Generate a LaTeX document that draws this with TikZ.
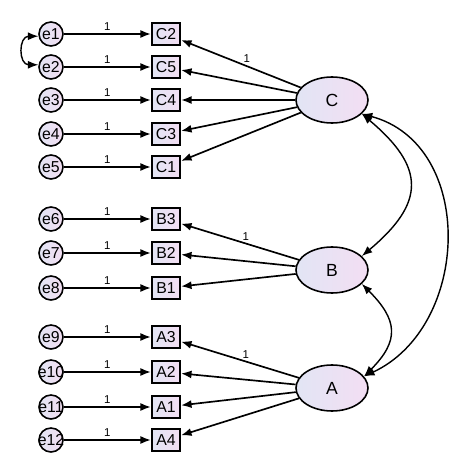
\documentclass[tikz,border=0pt]{standalone}
\usepackage{fontspec}
\setmainfont{Liberation Sans}
\usetikzlibrary{arrows.meta,shapes.geometric}
\definecolor{lilacL}{RGB}{226,229,244}
\definecolor{lilacR}{RGB}{243,222,243}

\begin{document}
\begin{tikzpicture}[x=0.02cm,y=-0.02cm,
  err/.style={draw,circle,line width=0.9pt,inner sep=0pt,minimum size=0.48cm,
    left color=lilacL,right color=lilacR,font=\fontsize{9}{10}\selectfont},
  obs/.style={draw,rectangle,line width=0.9pt,inner sep=0pt,minimum width=0.57cm,
    minimum height=0.45cm,left color=lilacL,right color=lilacR,font=\fontsize{9}{10}\selectfont},
  lat/.style={draw,ellipse,line width=0.9pt,inner sep=0pt,minimum width=1.44cm,
    minimum height=0.92cm,left color=lilacL,right color=lilacR,font=\fontsize{10}{12}\selectfont},
  fix/.style={line width=0.95pt,-{Latex[length=0.21cm,width=0.16cm]}},
  cov/.style={line width=0.8pt,{Latex[length=0.21cm,width=0.16cm]}-{Latex[length=0.21cm,width=0.16cm]}},
  one/.style={font=\fontsize{6.5}{7}\selectfont,inner sep=1.5pt}]

\useasboundingbox (0,0) rectangle (474,470);

% latent factors
\node[lat] (C) at (332,100) {C};
\node[lat] (B) at (332,270) {B};
\node[lat] (A) at (332,388) {A};

% indicators
\node[obs] (C2) at (166,34) {C2};
\node[obs] (C5) at (166,67) {C5};
\node[obs] (C4) at (166,100) {C4};
\node[obs] (C3) at (166,134) {C3};
\node[obs] (C1) at (166,167) {C1};
\node[obs] (B3) at (166,219) {B3};
\node[obs] (B2) at (166,253) {B2};
\node[obs] (B1) at (166,288) {B1};
\node[obs] (A3) at (166,337) {A3};
\node[obs] (A2) at (166,372) {A2};
\node[obs] (A1) at (166,407) {A1};
\node[obs] (A4) at (166,440) {A4};

% errors
\node[err] (e1) at (51,34) {e1};
\node[err] (e2) at (51,67) {e2};
\node[err] (e3) at (51,100) {e3};
\node[err] (e4) at (51,134) {e4};
\node[err] (e5) at (51,167) {e5};
\node[err] (e6) at (51,219) {e6};
\node[err] (e7) at (51,253) {e7};
\node[err] (e8) at (51,288) {e8};
\node[err] (e9) at (51,337) {e9};
\node[err] (e10) at (51,372) {\makebox[0pt]{e10}};
\node[err] (e11) at (51,407) {\makebox[0pt]{e11}};
\node[err] (e12) at (51,440) {\makebox[0pt]{e12}};

% error paths
\draw[fix] (e1) -- node[one,above]{1} (C2);
\draw[fix] (e2) -- node[one,above]{1} (C5);
\draw[fix] (e3) -- node[one,above]{1} (C4);
\draw[fix] (e4) -- node[one,above]{1} (C3);
\draw[fix] (e5) -- node[one,above]{1} (C1);
\draw[fix] (e6) -- node[one,above]{1} (B3);
\draw[fix] (e7) -- node[one,above]{1} (B2);
\draw[fix] (e8) -- node[one,above]{1} (B1);
\draw[fix] (e9) -- node[one,above]{1} (A3);
\draw[fix] (e10) -- node[one,above]{1} (A2);
\draw[fix] (e11) -- node[one,above]{1} (A1);
\draw[fix] (e12) -- node[one,above]{1} (A4);

% loadings
\draw[fix] (C) -- node[one,pos=0.45,above]{1} (C2);
\draw[fix] (C) -- (C5);
\draw[fix] (C) -- (C4);
\draw[fix] (C) -- (C3);
\draw[fix] (C) -- (C1);
\draw[fix] (B) -- node[one,pos=0.45,above]{1} (B3);
\draw[fix] (B) -- (B2);
\draw[fix] (B) -- (B1);
\draw[fix] (A) -- node[one,pos=0.45,above]{1} (A3);
\draw[fix] (A) -- (A2);
\draw[fix] (A) -- (A1);
\draw[fix] (A) -- (A4);

% covariances
\draw[cov] (C.-25) to[out=-40,in=40,looseness=1.5] (B.25);
\draw[cov] (C.-25) to[out=-15,in=25,looseness=1.15] (A.20);
\draw[cov] (B.-25) to[out=-45,in=45,looseness=1.4] (A.20);
\draw[cov] (e1.190) to[out=180,in=180,looseness=1.8] (e2.170);

\end{tikzpicture}
\end{document}
